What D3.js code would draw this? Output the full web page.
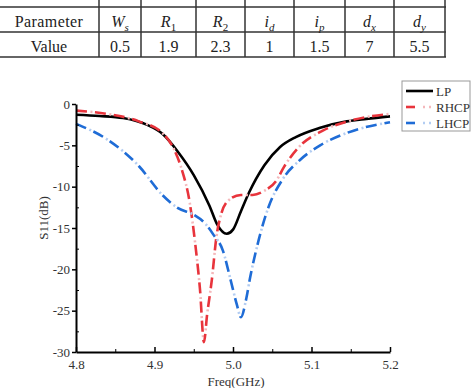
<!DOCTYPE html>
<html>
<head>
<meta charset="utf-8">
<script src="https://cdn.jsdelivr.net/npm/d3@7"></script>
<style>
  body { margin: 0; background: #fff; }
  svg { display: block; }
  svg text { font-family: "Liberation Serif", "Times New Roman", serif; }
</style>
</head>
<body>
<svg id="chart" width="474" height="388"></svg>
<script>
// table contents
var paramNames = [["W", "s"], ["R", "1"], ["R", "2"], ["i", "d"], ["i", "p"], ["d", "x"], ["d", "y"]];
var paramValues = ["0.5", "1.9", "2.3", "1", "1.5", "7", "5.5"];

// S11 curves (freq GHz, dB)
var lpFreq = [4.80, 4.83, 4.86, 4.89, 4.91, 4.93, 4.95, 4.97, 4.98, 4.992, 5.00, 5.01, 5.02, 5.04, 5.06, 5.08, 5.11, 5.145, 5.17, 5.20];
var lpS11 = [-1.3, -1.45, -1.7, -2.5, -3.6, -5.8, -8.6, -12.3, -14.6, -15.7, -15.2, -13.0, -10.8, -7.4, -5.2, -4.0, -2.9, -2.1, -1.8, -1.5];

var rhcpFreq = [4.80, 4.84, 4.88, 4.91, 4.925, 4.935, 4.945, 4.952, 4.958, 4.963, 4.967, 4.973, 4.979, 4.985, 4.995, 5.01, 5.025, 5.04, 5.055, 5.065, 5.085, 5.115, 5.15, 5.20];
var rhcpS11 = [-0.8, -1.2, -2.1, -3.5, -5.5, -8.0, -12.0, -17, -22.5, -28.8, -25.5, -21.3, -16, -13.3, -11.6, -11.0, -11.0, -10.5, -9.3, -7.6, -5.1, -3.2, -2.0, -1.2];

var lhcpFreq = [4.80, 4.84, 4.88, 4.91, 4.93, 4.95, 4.965, 4.975, 4.987, 4.997, 5.005, 5.01, 5.017, 5.022, 5.031, 5.044, 5.064, 5.085, 5.111, 5.145, 5.20];
var lhcpS11 = [-2.4, -4.3, -7.5, -11.0, -12.6, -13.4, -14.5, -15.8, -17.7, -21.3, -24.3, -25.8, -23.5, -20.9, -17.1, -12.8, -9.0, -6.8, -5.0, -3.5, -2.2];

var xTicks = [4.8, 4.9, 5.0, 5.1, 5.2];
var yTicks = [0, -5, -10, -15, -20, -25, -30];

var series = [
  {name: "LP", freq: lpFreq, s11: lpS11, color: "#000", dot: null, dashed: false},
  {name: "RHCP", freq: rhcpFreq, s11: rhcpS11, color: "#e8343c", dot: "#f4b8bb", dashed: true},
  {name: "LHCP", freq: lhcpFreq, s11: lhcpS11, color: "#1f6cd6", dot: "#b3cdf2", dashed: true}
];

var svg = d3.select("#chart");

// ---- table ----
var colX = [99, 141, 196, 245, 294, 345, 394, 445];
var rowY = [7, 32, 57];
var tbl = svg.append("g").attr("stroke", "#333").attr("stroke-width", 1.5);
rowY.forEach(function(y) {
  tbl.append("line").attr("x1", 0).attr("x2", colX[colX.length - 1] + 1).attr("y1", y).attr("y2", y);
});
colX.forEach(function(x) {
  tbl.append("line").attr("x1", x).attr("x2", x).attr("y1", -2).attr("y2", 57);
});

var txt = svg.append("g").attr("font-size", 16).attr("fill", "#222").attr("text-anchor", "middle");
txt.append("text").attr("x", 49).attr("y", 26.5).attr("letter-spacing", 0.4).text("Parameter");
txt.append("text").attr("x", 49).attr("y", 51.5).text("Value");
paramNames.forEach(function(p, i) {
  var cx = (colX[i] + colX[i + 1]) / 2;
  var t = txt.append("text").attr("x", cx).attr("y", 26.5);
  t.append("tspan").attr("font-style", "italic").text(p[0]);
  t.append("tspan").attr("font-size", 11).attr("dy", 4)
    .attr("font-style", /[0-9]/.test(p[1]) ? "normal" : "italic").text(p[1]);
  txt.append("text").attr("x", cx).attr("y", 51.5).text(paramValues[i]);
});

// ---- chart ----
var x = d3.scaleLinear().domain([4.8, 5.2]).range([76, 390]);
var y = d3.scaleLinear().domain([-30, 0]).range([352, 104]);

var line = d3.line()
  .x(function(d) { return x(d[0]); })
  .y(function(d) { return y(d[1]); })
  .curve(d3.curveMonotoneX);

series.forEach(function(s) {
  var pts = s.freq.map(function(f, i) { return [f, s.s11[i]]; });
  if (s.dashed) {
    // faint dots sitting in the gaps of the dashes
    svg.append("path")
      .datum(pts)
      .attr("fill", "none")
      .attr("stroke", s.dot)
      .attr("stroke-width", 2.6)
      .attr("stroke-dasharray", "2,17")
      .attr("stroke-dashoffset", 4.5)
      .attr("d", line);
  }
  svg.append("path")
    .datum(pts)
    .attr("fill", "none")
    .attr("stroke", s.color)
    .attr("stroke-width", 2.6)
    .attr("stroke-dasharray", s.dashed ? "11,8" : null)
    .attr("d", line);
});

// minor ticks
svg.append("g")
  .attr("transform", "translate(0,352)")
  .call(d3.axisBottom(x).tickValues(d3.range(4.85, 5.2, 0.1)).tickSize(-3).tickFormat(""))
  .call(g => g.select(".domain").remove());
svg.append("g")
  .attr("transform", "translate(76,0)")
  .call(d3.axisLeft(y).tickValues(d3.range(-27.5, 0, 5)).tickSize(-3).tickFormat(""))
  .call(g => g.select(".domain").remove());

var xAxis = svg.append("g")
  .attr("transform", "translate(0,352)")
  .call(d3.axisBottom(x).tickValues(xTicks).tickSize(-5).tickSizeOuter(0).tickPadding(8).tickFormat(d3.format(".1f")));
var yAxis = svg.append("g")
  .attr("transform", "translate(76,0)")
  .call(d3.axisLeft(y).tickValues(yTicks).tickSize(4).tickSizeOuter(0).tickPadding(2).tickFormat(function(d) { return String(d); }));

[xAxis, yAxis].forEach(function(a) {
  a.attr("font-family", null).attr("font-size", 13);
  a.select(".domain").attr("stroke-width", 2);
  a.selectAll(".tick line").attr("stroke-width", 1.5);
  a.selectAll(".tick text").attr("fill", "#333");
});
svg.selectAll(".tick line").attr("stroke", "#000");

svg.append("text")
  .attr("x", 236).attr("y", 386)
  .attr("text-anchor", "middle").attr("font-size", 13).attr("fill", "#333")
  .text("Freq(GHz)");
svg.append("text")
  .attr("transform", "translate(48,218) rotate(-90)")
  .attr("text-anchor", "middle").attr("font-size", 13).attr("fill", "#333")
  .text("S11(dB)");

// ---- legend ----
var leg = svg.append("g").attr("transform", "translate(402,81)");
leg.append("rect").attr("width", 68).attr("height", 50)
  .attr("fill", "#fff").attr("stroke", "#999").attr("stroke-width", 1);
series.forEach(function(s, i) {
  var ly = 10 + i * 16;
  if (s.dashed) {
    leg.append("line").attr("x1", 4).attr("x2", 31).attr("y1", ly).attr("y2", ly)
      .attr("stroke", s.dot).attr("stroke-width", 2.6).attr("stroke-dasharray", "0,17,2,4,2,10");
  }
  leg.append("line").attr("x1", 4).attr("x2", 31).attr("y1", ly).attr("y2", ly)
    .attr("stroke", s.color).attr("stroke-width", 2.6).attr("stroke-dasharray", s.dashed ? "9,18" : null);
  leg.append("text").attr("x", 34).attr("y", ly + 4.5).attr("font-size", 13).attr("fill", "#333").text(s.name);
});
</script>
</body>
</html>
